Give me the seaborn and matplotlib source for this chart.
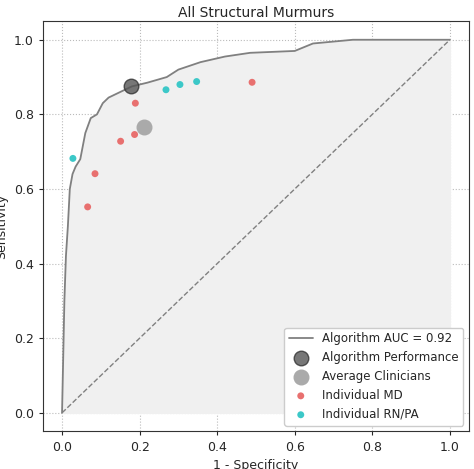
import numpy as np
import pandas as pd
import matplotlib.pyplot as plt
import seaborn as sns

# ROC curve
roc_fpr = [0, 0.003, 0.006, 0.01, 0.015, 0.02, 0.027, 0.035, 0.047, 0.06, 0.074, 0.09, 0.105, 0.12,
           0.15, 0.18, 0.22, 0.27, 0.3, 0.357, 0.42, 0.485, 0.6, 0.647, 0.75, 1.0]
roc_tpr = [0, 0.15, 0.3, 0.42, 0.5, 0.6, 0.64, 0.66, 0.68, 0.75, 0.79, 0.80, 0.83, 0.845,
           0.86, 0.875, 0.885, 0.9, 0.92, 0.94, 0.955, 0.965, 0.97, 0.99, 1.0, 1.0]
algo_point = (0.179, 0.875)
clin_point = (0.212, 0.767)
md_fpr = [0.189, 0.151, 0.187, 0.085, 0.066, 0.49]
md_tpr = [0.830, 0.728, 0.746, 0.641, 0.552, 0.886]
rn_fpr = [0.028, 0.268, 0.304, 0.347]
rn_tpr = [0.682, 0.866, 0.880, 0.888]

sns.set_style("whitegrid", {"grid.linestyle": ":", "grid.color": "#bbbbbb",
                            "axes.edgecolor": "#333333"})
fig, ax = plt.subplots(figsize=(4.74, 4.69), dpi=100)

ax.fill_between(roc_fpr, roc_tpr, color="#f0f0f0")
ax.plot([0, 1], [0, 1], linestyle="--", color="gray", lw=1)
ax.plot(roc_fpr, roc_tpr, color="gray", lw=1.3, label="Algorithm AUC = 0.92")
ax.scatter(*algo_point, s=110, color="#555555", alpha=0.8, edgecolor="#333333",
           label="Algorithm Performance", zorder=4)
ax.scatter(*clin_point, s=110, color="#aaaaaa", label="Average Clinicians", zorder=4)
sns.scatterplot(x=md_fpr, y=md_tpr, color="#e8706f", s=25, edgecolor="none",
                label="Individual MD", ax=ax, zorder=5)
sns.scatterplot(x=rn_fpr, y=rn_tpr, color="#3cc8c8", s=25, edgecolor="none",
                label="Individual RN/PA", ax=ax, zorder=5)

ax.set_xlim(-0.05, 1.05)
ax.set_ylim(-0.05, 1.05)
ax.set_xticks(np.arange(0, 1.01, 0.2))
ax.set_yticks(np.arange(0, 1.01, 0.2))
ax.set_xlabel("1 - Specificity", fontsize=9)
ax.set_ylabel("Sensitivity", fontsize=9)
ax.set_title("All Structural Murmurs", fontsize=10, pad=3)
ax.tick_params(labelsize=9, length=3, left=True, bottom=True)
ax.legend(loc="lower right", fontsize=8.5, frameon=True, framealpha=1, edgecolor="#cccccc")

plt.subplots_adjust(left=0.09, right=0.99, bottom=0.08, top=0.955)
plt.savefig("out.png", dpi=100)
